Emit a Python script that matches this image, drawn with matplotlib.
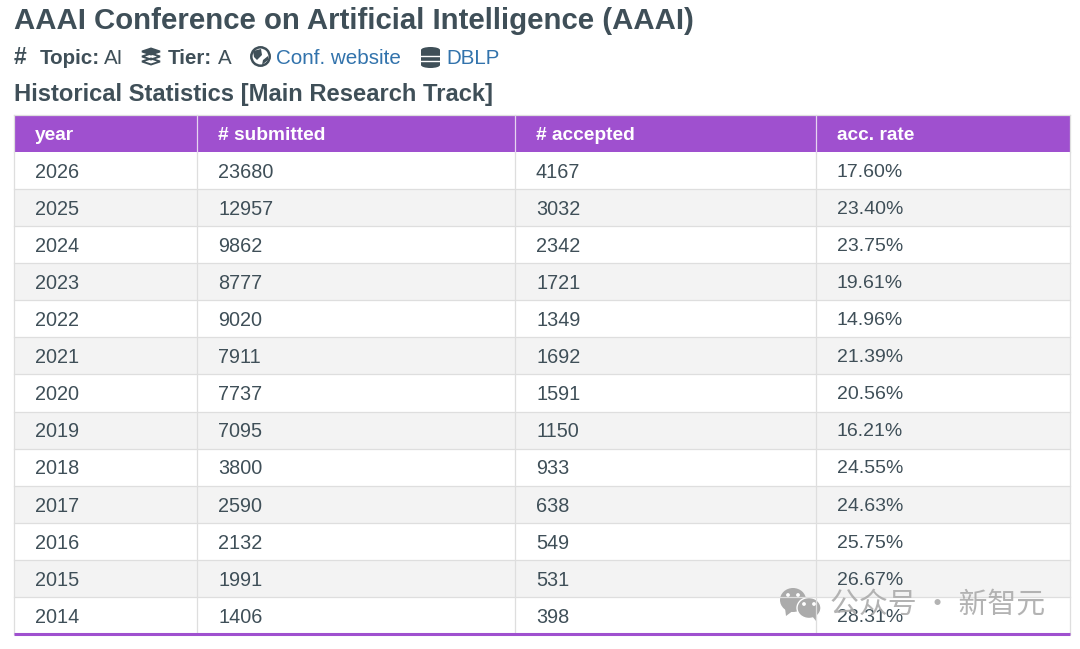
import matplotlib
matplotlib.use('Agg')
import matplotlib.pyplot as plt
from matplotlib.patches import Rectangle, Ellipse, Circle, Polygon

plt.rcParams['font.family'] = ['Liberation Sans', 'Noto Sans CJK SC', 'DejaVu Sans']

# table data
headers = ['year', '# submitted', '# accepted', 'acc. rate']
years = [2026, 2025, 2024, 2023, 2022, 2021, 2020, 2019, 2018, 2017, 2016, 2015, 2014]
submitted = [23680, 12957, 9862, 8777, 9020, 7911, 7737, 7095, 3800, 2590, 2132, 1991, 1406]
accepted = [4167, 3032, 2342, 1721, 1349, 1692, 1591, 1150, 933, 638, 549, 531, 398]
rates = ['17.60%', '23.40%', '23.75%', '19.61%', '14.96%', '21.39%', '20.56%',
         '16.21%', '24.55%', '24.63%', '25.75%', '26.67%', '28.31%']

dark = '#3f4f58'
purple = '#9f50cf'
border = '#dedede'
link = '#3273ac'
col_x = [13.5, 196.5, 514.5, 815.5, 1069.5]
head_top, head_bot = 115, 152
row_h = 37.08

fig = plt.figure(figsize=(10.8, 6.49), dpi=100)
ax = fig.add_axes([0, 0, 1, 1])
ax.set_xlim(0, 1080)
ax.set_ylim(649, 0)
ax.axis('off')

# headings
ax.text(14, 21, 'AAAI Conference on Artificial Intelligence (AAAI)', fontsize=21.2,
        fontweight='bold', color=dark, va='center')
ax.text(14, 95, 'Historical Statistics [Main Research Track]', fontsize=17.1,
        fontweight='bold', color=dark, va='center')

# info line
ax.text(14, 58, '#', fontsize=16.5, fontweight='bold', color=dark, va='center')
ax.text(40, 58.5, 'Topic:', fontsize=14.8, fontweight='bold', color=dark, va='center')
ax.text(104, 58.5, 'AI', fontsize=14.8, color=dark, va='center')
ax.text(168, 58.5, 'Tier:', fontsize=14.8, fontweight='bold', color=dark, va='center')
ax.text(218, 58.5, 'A', fontsize=14.8, color=dark, va='center')
ax.text(276, 58.5, 'Conf. website', fontsize=14.9, color=link, va='center')
ax.text(446, 58.5, 'DBLP', fontsize=14.8, color=link, va='center')

# layers icon
for y in (51.5, 56.5, 61.5):
    ax.add_patch(Polygon([[142, y], [151, y - 3], [160, y], [151, y + 3]],
                         fc=dark if y == 51.5 else 'none', ec=dark, lw=1.4))
# globe icon
ax.add_patch(Circle((260.5, 56.5), 9.2, fc='white', ec=dark, lw=1.8))
ax.add_patch(Polygon([[253, 51], [261, 49], [262, 55], [257, 60], [254, 57]], fc=dark, ec='none'))
ax.add_patch(Polygon([[263, 60], [268, 56], [268, 60], [262, 65]], fc=dark, ec='none'))
# database icon
ax.add_patch(Rectangle((421, 50), 19, 15, fc=dark, ec='none'))
ax.add_patch(Ellipse((430.5, 50), 19, 6, fc=dark, ec='none'))
ax.add_patch(Ellipse((430.5, 65), 19, 6, fc=dark, ec='none'))
for y in (55.5, 60.5):
    ax.plot([421, 440], [y, y], color='white', lw=1)

# header row
ax.add_patch(Rectangle((col_x[0], head_top), col_x[-1] - col_x[0], head_bot - head_top,
                       fc=purple, ec='none'))
for left, label in zip(col_x[:-1], headers):
    ax.text(left + 21.5, 135, label, fontsize=13.8, fontweight='bold', color='white', va='center')

# body rows
for i, row in enumerate(zip(years, submitted, accepted, rates)):
    top = head_bot + i * row_h
    ax.add_patch(Rectangle((col_x[0], top), col_x[-1] - col_x[0], row_h,
                           fc='#f3f3f3' if i % 2 else 'white', ec='none'))
    ax.plot([col_x[0], col_x[-1]], [top + row_h, top + row_h], color=border, lw=0.9)
    for j, (left, val) in enumerate(zip(col_x[:-1], row)):
        ax.text(left + 21.5, top + 20.3, str(val), fontsize=14.0 if j == 3 else 14.3,
                color=dark, va='center')

# grid lines
bottom = head_bot + len(years) * row_h
for x in col_x:
    ax.plot([x, x], [head_bot, bottom], color=border, lw=0.9)
    ax.plot([x, x], [head_top, head_bot], color='#e6d5f0' if x not in col_x[::4] else border, lw=0.9)
ax.plot([col_x[0], col_x[-1]], [head_top, head_top], color=border, lw=0.9)
ax.plot([col_x[0], col_x[-1]], [bottom, bottom], color=purple, lw=2.2, solid_capstyle='butt')

# watermark
gray = '#ababab'
ax.add_patch(Ellipse((793, 600), 26, 24, fc=gray, ec='none'))
ax.add_patch(Polygon([[785, 608], [786, 616], [794, 610]], fc=gray, ec='none'))
ax.add_patch(Ellipse((809, 608), 24, 21, fc=gray, ec='white', lw=1))
ax.add_patch(Polygon([[812, 616], [816, 621], [817, 612]], fc=gray, ec='none'))
for x, y, c in [(788, 595, 'white'), (798, 595, 'white'), (804, 604, 'white'), (814, 604, 'white')]:
    ax.add_patch(Circle((x, y), 1.9, fc=c, ec='none'))
ax.text(830, 605, '公众号 · 新智元', fontsize=20.8, color=gray, va='center',
        family=['Noto Sans CJK SC', 'DejaVu Sans'], alpha=0.9)

fig.savefig('out.png', dpi=100)
